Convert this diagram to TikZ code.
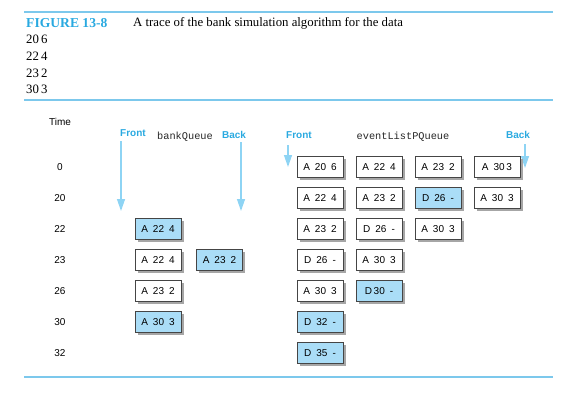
\documentclass[tikz,border=0pt]{standalone}
\usepackage{fontspec}
\setmainfont{Liberation Serif}
\setsansfont{Liberation Sans}
\setmonofont{Liberation Mono}
\usetikzlibrary{arrows.meta,shadows}
\definecolor{rulecol}{HTML}{7CC8EC}
\definecolor{headcol}{HTML}{29A9E0}
\definecolor{arrcol}{HTML}{8ED4F4}
\definecolor{boxfill}{HTML}{AADDF7}
\definecolor{boxline}{HTML}{454545}
\tikzset{
  qbox/.style={draw=boxline, line width=0.9pt, fill=white, minimum width=46pt, minimum height=21pt,
    inner sep=0pt, font=\sffamily\fontsize{10}{12}\selectfont,
    drop shadow={shadow xshift=2.5pt, shadow yshift=-2.5pt, fill=black!35, opacity=1}},
  hbox/.style={qbox, fill=boxfill},
  endlabel/.style={font=\sffamily\bfseries\fontsize{10}{12}\selectfont, text=headcol, inner sep=0pt},
  qname/.style={font=\ttfamily\fontsize{10.3}{12}\selectfont, text=black!85, inner sep=0pt},
  timelbl/.style={font=\sffamily\fontsize{10}{12}\selectfont, inner sep=0pt},
  qarrow/.style={draw=arrcol, line width=1.3pt, -{Triangle[length=12pt,width=8pt]}},
  rulel/.style={draw=rulecol, line width=1.5pt},
  datal/.style={anchor=west, inner sep=0pt, font=\fontsize{12.8}{14}\selectfont},
}
\newcommand{\ent}[3]{#1\hspace{5pt}#2\hspace{5pt}#3}
\begin{document}
\begin{tikzpicture}[x=1pt,y=-1pt]
\useasboundingbox (0,0) rectangle (581,400);
% rules
\coordinate (r1a) at (24,12); \coordinate (r1b) at (553,12);
\coordinate (r2a) at (24,100); \coordinate (r2b) at (553,100);
\coordinate (r3a) at (24,377); \coordinate (r3b) at (553,377);
\draw[rulel] (r1a) -- (r1b);
\draw[rulel] (r2a) -- (r2b);
\draw[rulel] (r3a) -- (r3b);
% heading
\node[anchor=west, inner sep=0pt, text=headcol, font=\bfseries\fontsize{13.6}{16}\selectfont] (fig) at (26,23) {FIGURE 13-8};
\node[datal] (cap) at (133,23) {A trace of the bank simulation algorithm for the data};
\node[datal] (d1) at (26,39.5) {20\,6};
\node[datal] (d2) at (26,56.5) {22\,4};
\node[datal] (d3) at (26,73) {23\,2};
\node[datal] (d4) at (26,89) {30\,3};
% time column
\node[timelbl] (time) at (60,122) {Time};
\node[timelbl] (t0) at (60,167) {0};
\node[timelbl] (t20) at (60,198) {20};
\node[timelbl] (t22) at (60,229) {22};
\node[timelbl] (t23) at (60,260) {23};
\node[timelbl] (t26) at (60,291) {26};
\node[timelbl] (t30) at (60,322) {30};
\node[timelbl] (t32) at (60,353) {32};
% bankQueue headers
\node[endlabel] (bfront) at (133,133) {Front};
\node[qname] (bq) at (185,137) {bankQueue};
\node[endlabel] (bback) at (234,135) {Back};
\coordinate (bfa) at (121,141); \coordinate (bfb) at (121,211);
\coordinate (bba) at (241,142); \coordinate (bbb) at (241,211);
\draw[qarrow] (bfa) -- (bfb);
\draw[qarrow] (bba) -- (bbb);
% eventList headers
\node[endlabel] (efront) at (299,135) {Front};
\node[qname] (eq) at (403,137) {eventListPQueue};
\node[endlabel] (eback) at (518,135) {Back};
\coordinate (efa) at (288,145); \coordinate (efb) at (288,167);
\coordinate (eba) at (525,144); \coordinate (ebb) at (525,168);
\draw[qarrow] (efa) -- (efb);
\draw[qarrow] (eba) -- (ebb);
% row 0
\node[qbox] (e0a) at (320,167) {\ent{A}{20}{6}};
\node[qbox] (e0b) at (379,167) {\ent{A}{22}{4}};
\node[qbox] (e0c) at (438,167) {\ent{A}{23}{2}};
\node[qbox] (e0d) at (497,167) {A\hspace{5pt}30\,3};
% row 20
\node[qbox] (e1a) at (320,198) {\ent{A}{22}{4}};
\node[qbox] (e1b) at (379,198) {\ent{A}{23}{2}};
\node[hbox] (e1c) at (438,198) {\ent{D}{26}{-}};
\node[qbox] (e1d) at (497,198) {\ent{A}{30}{3}};
% row 22
\node[hbox] (b2a) at (158,229) {\ent{A}{22}{4}};
\node[qbox] (e2a) at (320,229) {\ent{A}{23}{2}};
\node[qbox] (e2b) at (379,229) {\ent{D}{26}{-}};
\node[qbox] (e2c) at (438,229) {\ent{A}{30}{3}};
% row 23
\node[qbox] (b3a) at (158,260) {\ent{A}{22}{4}};
\node[hbox] (b3b) at (219.5,260) {\ent{A}{23}{2}};
\node[qbox] (e3a) at (320,260) {\ent{D}{26}{-}};
\node[qbox] (e3b) at (379,260) {\ent{A}{30}{3}};
% row 26
\node[qbox] (b4a) at (158,291) {\ent{A}{23}{2}};
\node[qbox] (e4a) at (320,291) {\ent{A}{30}{3}};
\node[hbox] (e4b) at (379,291) {D\,30\hspace{5pt}-};
% row 30
\node[hbox] (b5a) at (158,322) {\ent{A}{30}{3}};
\node[hbox] (e5a) at (320,322) {\ent{D}{32}{-}};
% row 32
\node[hbox] (e6a) at (320,353) {\ent{D}{35}{-}};
\end{tikzpicture}
\end{document}
